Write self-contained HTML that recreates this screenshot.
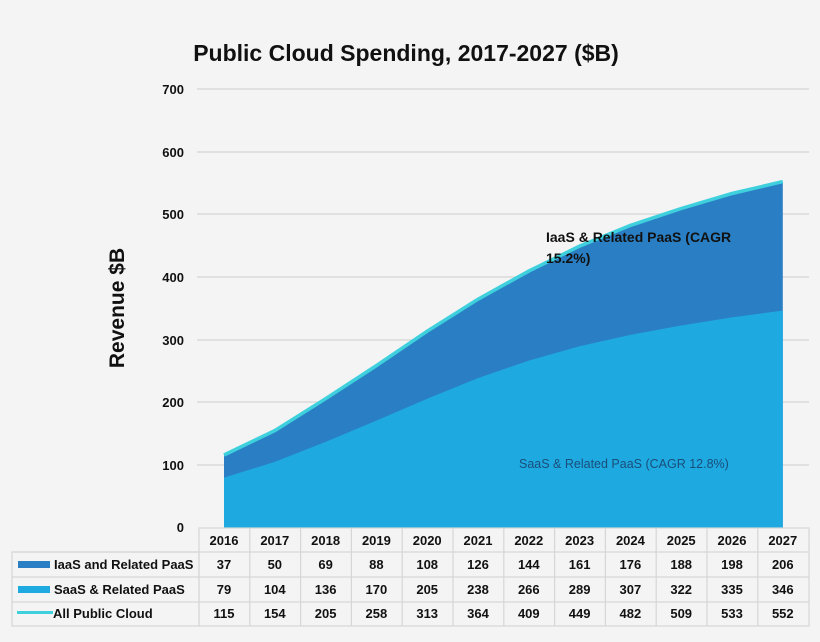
<!DOCTYPE html><html><head><style>
body{margin:0;background:#f4f4f4;font-family:"Liberation Sans",sans-serif}
</style></head><body>
<svg width="820" height="642" xmlns="http://www.w3.org/2000/svg" style="display:block">
<rect width="820" height="642" fill="#f4f4f4"/>
<text x="406" y="61" text-anchor="middle" font-size="23" font-weight="bold" fill="#111">Public Cloud Spending, 2017-2027 ($B)</text>
<g stroke="#d9d9d9" stroke-width="1.5">
<line x1="197" x2="809" y1="89" y2="89"/><line x1="197" x2="809" y1="152" y2="152"/>
<line x1="197" x2="809" y1="214" y2="214"/><line x1="197" x2="809" y1="277" y2="277"/>
<line x1="197" x2="809" y1="340" y2="340"/><line x1="197" x2="809" y1="402" y2="402"/>
<line x1="197" x2="809" y1="465" y2="465"/>
</g>
<g font-size="13" font-weight="bold" text-anchor="end" fill="#111">
<text x="184" y="94">700</text><text x="184" y="157">600</text><text x="184" y="219">500</text>
<text x="184" y="282">400</text><text x="184" y="345">300</text><text x="184" y="407">200</text>
<text x="184" y="470">100</text><text x="184" y="532">0</text>
</g>
<text transform="translate(124,308) rotate(-90)" text-anchor="middle" font-size="21" font-weight="bold" fill="#111">Revenue $B</text>
<path d="M224,455 L274.8,430.6 L325.6,398.7 L376.4,365.6 L427.2,331.2 L478,299.2 L528.8,271.1 L579.6,246.1 L630.4,225.4 L681.2,208.5 L732,193.5 L782.8,181.6 L782.8,528 L224,528Z" fill="#2a7fc4"/>
<path d="M224,477.6 L274.8,461.9 L325.6,441.9 L376.4,420.6 L427.2,398.7 L478,378.1 L528.8,360.6 L579.6,346.2 L630.4,334.9 L681.2,325.5 L732,317.4 L782.8,310.5 L782.8,528 L224,528Z" fill="#1ea9e1"/>
<polyline points="224,455 274.8,430.6 325.6,398.7 376.4,365.6 427.2,331.2 478,299.2 528.8,271.1 579.6,246.1 630.4,225.4 681.2,208.5 732,193.5 782.8,181.6" fill="none" stroke="#3fd0de" stroke-width="3.5"/>
<text x="546" y="242" font-size="14" font-weight="bold" fill="#111">IaaS &amp; Related PaaS (CAGR</text>
<text x="546" y="263" font-size="14" font-weight="bold" fill="#111">15.2%)</text>
<text x="519" y="468" font-size="12.5" fill="#1a4e7a">SaaS &amp; Related PaaS (CAGR 12.8%)</text>
<g stroke="#d6d6d6" stroke-width="1.2" fill="none">
<rect x="199" y="528" width="610" height="98"/>
<rect x="12" y="552" width="187" height="74"/>
<line x1="12" x2="809" y1="552" y2="552"/><line x1="12" x2="809" y1="577" y2="577"/><line x1="12" x2="809" y1="602" y2="602"/>
<line x1="249.8" x2="249.8" y1="528" y2="626"/><line x1="300.6" x2="300.6" y1="528" y2="626"/><line x1="351.4" x2="351.4" y1="528" y2="626"/><line x1="402.2" x2="402.2" y1="528" y2="626"/><line x1="453" x2="453" y1="528" y2="626"/><line x1="503.8" x2="503.8" y1="528" y2="626"/><line x1="554.6" x2="554.6" y1="528" y2="626"/><line x1="605.4" x2="605.4" y1="528" y2="626"/><line x1="656.2" x2="656.2" y1="528" y2="626"/><line x1="707" x2="707" y1="528" y2="626"/><line x1="757.8" x2="757.8" y1="528" y2="626"/>
</g>
<rect x="18" y="561" width="32" height="7" fill="#2a7fc4"/>
<rect x="18" y="586" width="32" height="7" fill="#1ea9e1"/>
<rect x="17" y="611" width="36" height="3" fill="#3fd0de"/>
<g font-size="13" font-weight="bold" fill="#111">
<text x="54" y="569">IaaS and Related PaaS</text>
<text x="54" y="594">SaaS &amp; Related PaaS</text>
<text x="53" y="618">All Public Cloud</text>
</g>
<g font-size="13" font-weight="bold" fill="#111" text-anchor="middle">
<text y="545"><tspan x="224">2016</tspan><tspan x="274.8">2017</tspan><tspan x="325.6">2018</tspan><tspan x="376.4">2019</tspan><tspan x="427.2">2020</tspan><tspan x="478">2021</tspan><tspan x="528.8">2022</tspan><tspan x="579.6">2023</tspan><tspan x="630.4">2024</tspan><tspan x="681.2">2025</tspan><tspan x="732">2026</tspan><tspan x="782.8">2027</tspan></text>
<text y="569"><tspan x="224">37</tspan><tspan x="274.8">50</tspan><tspan x="325.6">69</tspan><tspan x="376.4">88</tspan><tspan x="427.2">108</tspan><tspan x="478">126</tspan><tspan x="528.8">144</tspan><tspan x="579.6">161</tspan><tspan x="630.4">176</tspan><tspan x="681.2">188</tspan><tspan x="732">198</tspan><tspan x="782.8">206</tspan></text>
<text y="594"><tspan x="224">79</tspan><tspan x="274.8">104</tspan><tspan x="325.6">136</tspan><tspan x="376.4">170</tspan><tspan x="427.2">205</tspan><tspan x="478">238</tspan><tspan x="528.8">266</tspan><tspan x="579.6">289</tspan><tspan x="630.4">307</tspan><tspan x="681.2">322</tspan><tspan x="732">335</tspan><tspan x="782.8">346</tspan></text>
<text y="618"><tspan x="224">115</tspan><tspan x="274.8">154</tspan><tspan x="325.6">205</tspan><tspan x="376.4">258</tspan><tspan x="427.2">313</tspan><tspan x="478">364</tspan><tspan x="528.8">409</tspan><tspan x="579.6">449</tspan><tspan x="630.4">482</tspan><tspan x="681.2">509</tspan><tspan x="732">533</tspan><tspan x="782.8">552</tspan></text>
</g>
</svg>
</body></html>
